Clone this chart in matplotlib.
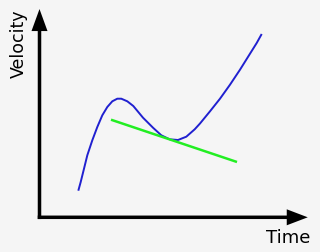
import matplotlib
matplotlib.use('Agg')
import matplotlib.pyplot as plt
from matplotlib.patches import FancyArrow

# velocity curve
time = [3.88, 4.12, 4.45, 4.78, 5.28, 5.78, 6.28, 6.78, 7.28, 7.78, 8.18, 8.78,
        9.38, 10.35, 11.35, 12.18, 13.02, 13.85, 14.68, 15.52, 16.05, 17.05,
        18.05, 19.05, 20.05, 21.05, 21.72, 22.22]
velocity = [2.66, 3.53, 4.86, 6.20, 7.70, 9.03, 10.20, 11.03, 11.60, 11.86, 11.86,
            11.60, 11.13, 9.96, 8.96, 8.20, 7.80, 7.73, 8.06, 8.80, 9.38, 10.60,
            11.86, 13.26, 14.76, 16.36, 17.43, 18.33]

# tangent line at the local minimum
tangent_t = [7.15, 19.75]
tangent_v = [9.76, 5.53]

x_label = 'Time'
y_label = 'Velocity'

fig = plt.figure(figsize=(3.2, 2.52), dpi=100)
fig.patch.set_facecolor('#f5f5f5')
ax = fig.add_axes([0, 0, 1, 1])
ax.set_facecolor('#f5f5f5')
ax.set_xlim(-3.95, 28.05)
ax.set_ylim(-3.47, 21.73)
ax.axis('off')

# axes drawn as arrows
ax.add_patch(FancyArrow(0, -0.175, 0, 21.0, width=0.35, head_width=1.6,
                        head_length=2.2, length_includes_head=True,
                        color='black', lw=0))
ax.add_patch(FancyArrow(-0.175, 0, 27.0, 0, width=0.35, head_width=1.6,
                        head_length=2.1, length_includes_head=True,
                        color='black', lw=0))

ax.plot(time, velocity, color='#2020d0', lw=1.4, solid_capstyle='butt')
ax.plot(tangent_t, tangent_v, color='#22ee22', lw=1.8, solid_capstyle='butt')

ax.text(24.85, -2.57, x_label, ha='center', va='baseline', fontsize=13)
ax.text(-2.05, 17.38, y_label, ha='center', va='center', rotation=90, fontsize=12.5)

fig.savefig('out.png', dpi=100, facecolor=fig.get_facecolor())
